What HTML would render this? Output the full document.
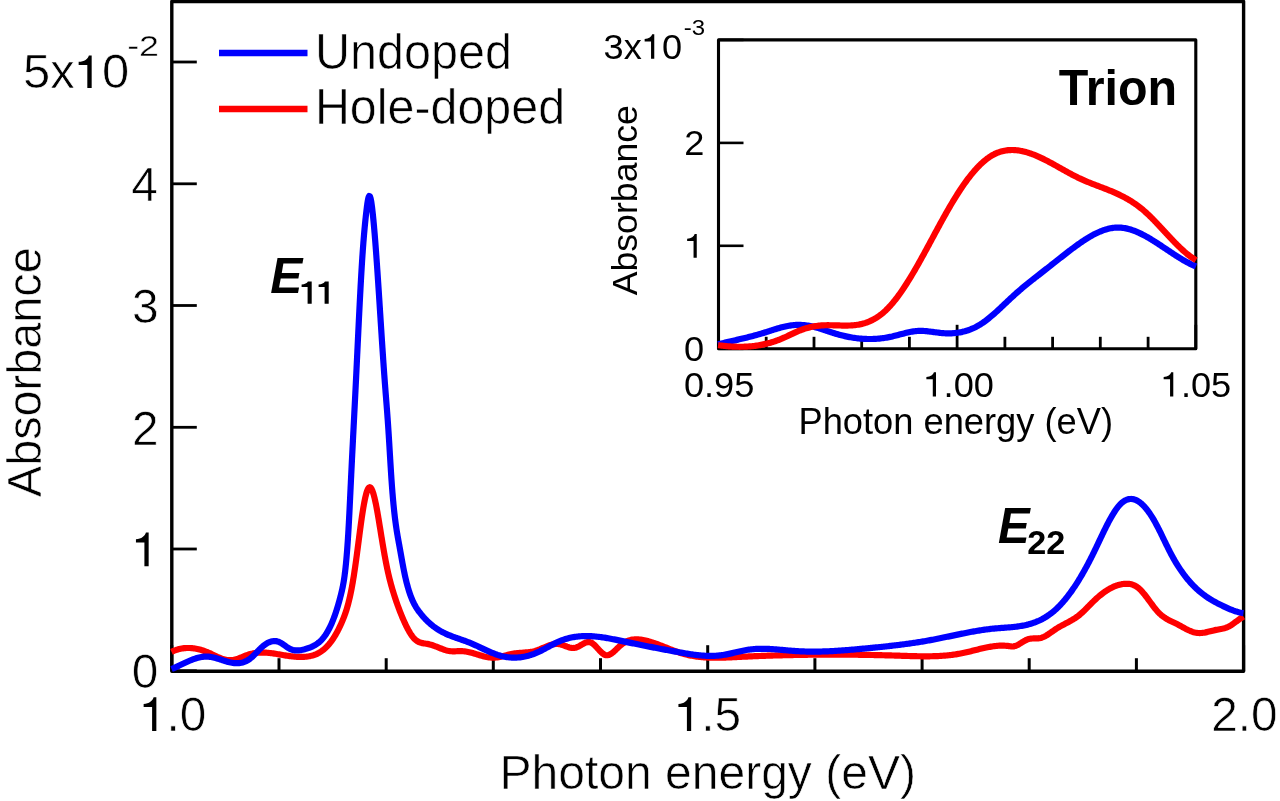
<!DOCTYPE html>
<html><head><meta charset="utf-8"><style>
html,body{margin:0;padding:0;background:#fff;width:1280px;height:801px;overflow:hidden}
svg{display:block;will-change:transform}
text{font-family:"Liberation Sans",sans-serif;fill:#000;stroke:#fff;stroke-width:1.3px}
text[font-weight="bold"]{stroke:none}
.ins text{stroke:none}
</style></head><body>
<svg width="1280" height="801" viewBox="0 0 1280 801">
<rect width="1280" height="801" fill="#fff"/>
<rect x="171.8" y="1.5" width="1071.8" height="669.7" fill="none" stroke="#000" stroke-width="3.4" stroke-linejoin="round"/>
<line x1="171.8" y1="670.8" x2="196.8" y2="670.8" stroke="#000" stroke-width="2.8"/>
<line x1="171.8" y1="549.0" x2="196.8" y2="549.0" stroke="#000" stroke-width="2.8"/>
<line x1="171.8" y1="427.3" x2="196.8" y2="427.3" stroke="#000" stroke-width="2.8"/>
<line x1="171.8" y1="305.5" x2="196.8" y2="305.5" stroke="#000" stroke-width="2.8"/>
<line x1="171.8" y1="183.8" x2="196.8" y2="183.8" stroke="#000" stroke-width="2.8"/>
<line x1="171.8" y1="62.0" x2="196.8" y2="62.0" stroke="#000" stroke-width="2.8"/>
<line x1="171.8" y1="671.2" x2="171.8" y2="645.2" stroke="#000" stroke-width="3"/>
<line x1="279.0" y1="671.2" x2="279.0" y2="658.2" stroke="#000" stroke-width="3"/>
<line x1="386.2" y1="671.2" x2="386.2" y2="658.2" stroke="#000" stroke-width="3"/>
<line x1="493.3" y1="671.2" x2="493.3" y2="658.2" stroke="#000" stroke-width="3"/>
<line x1="600.5" y1="671.2" x2="600.5" y2="658.2" stroke="#000" stroke-width="3"/>
<line x1="707.7" y1="671.2" x2="707.7" y2="645.2" stroke="#000" stroke-width="3"/>
<line x1="814.9" y1="671.2" x2="814.9" y2="658.2" stroke="#000" stroke-width="3"/>
<line x1="922.1" y1="671.2" x2="922.1" y2="658.2" stroke="#000" stroke-width="3"/>
<line x1="1029.2" y1="671.2" x2="1029.2" y2="658.2" stroke="#000" stroke-width="3"/>
<line x1="1136.4" y1="671.2" x2="1136.4" y2="658.2" stroke="#000" stroke-width="3"/>
<line x1="1243.6" y1="671.2" x2="1243.6" y2="645.2" stroke="#000" stroke-width="3"/>
<rect x="718.5" y="39.9" width="477.29999999999995" height="308.90000000000003" fill="#fff" stroke="#000" stroke-width="3.1" stroke-linejoin="round"/>
<line x1="718.5" y1="348.8" x2="743.5" y2="348.8" stroke="#000" stroke-width="2.6"/>
<line x1="718.5" y1="245.8" x2="743.5" y2="245.8" stroke="#000" stroke-width="2.6"/>
<line x1="718.5" y1="142.9" x2="743.5" y2="142.9" stroke="#000" stroke-width="2.6"/>
<line x1="718.5" y1="39.9" x2="743.5" y2="39.9" stroke="#000" stroke-width="2.6"/>
<line x1="718.5" y1="348.8" x2="718.5" y2="324.8" stroke="#000" stroke-width="2.8"/>
<line x1="766.2" y1="348.8" x2="766.2" y2="336.8" stroke="#000" stroke-width="2.8"/>
<line x1="814.0" y1="348.8" x2="814.0" y2="336.8" stroke="#000" stroke-width="2.8"/>
<line x1="861.7" y1="348.8" x2="861.7" y2="336.8" stroke="#000" stroke-width="2.8"/>
<line x1="909.4" y1="348.8" x2="909.4" y2="336.8" stroke="#000" stroke-width="2.8"/>
<line x1="957.1" y1="348.8" x2="957.1" y2="324.8" stroke="#000" stroke-width="2.8"/>
<line x1="1004.9" y1="348.8" x2="1004.9" y2="336.8" stroke="#000" stroke-width="2.8"/>
<line x1="1052.6" y1="348.8" x2="1052.6" y2="336.8" stroke="#000" stroke-width="2.8"/>
<line x1="1100.3" y1="348.8" x2="1100.3" y2="336.8" stroke="#000" stroke-width="2.8"/>
<line x1="1148.1" y1="348.8" x2="1148.1" y2="336.8" stroke="#000" stroke-width="2.8"/>
<line x1="1195.8" y1="348.8" x2="1195.8" y2="324.8" stroke="#000" stroke-width="2.8"/>
<path d="M171.50,651.90 L172.60,651.38 L173.70,650.90 L174.80,650.46 L175.95,650.04 L177.10,649.66 L178.25,649.32 L179.40,649.02 L180.55,648.76 L181.75,648.53 L182.95,648.34 L184.15,648.19 L185.30,648.09 L186.50,648.01 L187.70,647.98 L188.90,647.98 L190.10,648.02 L191.30,648.10 L192.50,648.21 L193.70,648.35 L194.90,648.53 L196.05,648.73 L197.25,648.97 L198.40,649.23 L199.60,649.54 L200.75,649.86 L201.90,650.20 L203.05,650.57 L204.15,650.95 L205.30,651.37 L206.40,651.79 L207.50,652.24 L208.65,652.73 L209.75,653.21 L210.80,653.69 L211.90,654.21 L213.00,654.73 L214.05,655.23 L215.15,655.75 L216.25,656.26 L217.35,656.77 L218.45,657.25 L219.55,657.72 L220.65,658.16 L221.80,658.59 L222.90,658.96 L224.05,659.31 L225.20,659.60 L226.40,659.86 L227.60,660.05 L228.75,660.16 L229.95,660.20 L231.15,660.17 L232.35,660.04 L233.55,659.85 L234.70,659.60 L235.90,659.29 L237.05,658.94 L238.15,658.57 L239.30,658.15 L240.40,657.73 L241.55,657.27 L242.65,656.83 L243.75,656.38 L244.85,655.94 L246.00,655.49 L247.10,655.07 L248.25,654.67 L249.40,654.29 L250.55,653.96 L251.70,653.66 L252.85,653.40 L254.05,653.17 L255.25,652.98 L256.40,652.83 L257.60,652.71 L258.80,652.62 L260.00,652.56 L261.20,652.53 L262.40,652.53 L263.60,652.55 L264.80,652.59 L266.00,652.66 L267.20,652.75 L268.40,652.86 L269.60,652.99 L270.80,653.13 L271.95,653.28 L273.15,653.44 L274.35,653.62 L275.55,653.81 L276.70,653.99 L277.90,654.19 L279.10,654.39 L280.25,654.59 L281.45,654.79 L282.65,654.99 L283.80,655.19 L285.00,655.38 L286.20,655.58 L287.40,655.76 L288.55,655.93 L289.75,656.10 L290.95,656.26 L292.15,656.40 L293.30,656.53 L294.50,656.65 L295.70,656.75 L296.90,656.83 L298.10,656.89 L299.30,656.93 L300.50,656.95 L301.70,656.94 L302.90,656.91 L304.10,656.85 L305.30,656.76 L306.50,656.65 L307.70,656.50 L308.90,656.31 L310.05,656.09 L311.25,655.83 L312.40,655.53 L313.55,655.18 L314.65,654.80 L315.80,654.35 L316.90,653.86 L317.95,653.35 L319.00,652.78 L320.05,652.16 L321.05,651.51 L322.05,650.81 L323.00,650.09 L323.95,649.31 L324.85,648.53 L325.70,647.74 L326.55,646.90 L327.40,646.02 L328.20,645.14 L329.00,644.22 L329.75,643.31 L330.50,642.36 L331.25,641.36 L331.95,640.40 L332.60,639.46 L333.30,638.42 L333.95,637.42 L334.60,636.38 L335.20,635.38 L335.80,634.36 L336.40,633.30 L337.00,632.22 L337.55,631.19 L338.10,630.14 L338.65,629.05 L339.20,627.94 L339.70,626.91 L340.20,625.85 L340.70,624.76 L341.20,623.66 L341.70,622.52 L342.20,621.36 L342.65,620.30 L343.10,619.20 L343.55,618.08 L344.00,616.92 L344.40,615.86 L344.80,614.77 L345.20,613.64 L345.60,612.47 L346.00,611.27 L346.35,610.18 L346.70,609.05 L347.05,607.89 L347.40,606.69 L347.70,605.62 L348.05,604.35 L348.35,603.22 L348.65,602.05 L348.95,600.86 L349.25,599.62 L349.50,598.57 L349.75,597.49 L350.05,596.15 L350.30,595.01 L350.55,593.84 L350.80,592.64 L351.05,591.42 L351.25,590.41 L351.50,589.13 L351.70,588.08 L351.95,586.74 L352.15,585.64 L352.35,584.53 L352.60,583.11 L352.80,581.94 L353.00,580.76 L353.20,579.56 L353.40,578.35 L353.55,577.42 L353.75,576.17 L353.95,574.90 L354.15,573.62 L354.30,572.64 L354.50,571.32 L354.65,570.33 L354.85,568.98 L355.05,567.62 L355.20,566.59 L355.35,565.55 L355.55,564.15 L355.70,563.09 L355.90,561.67 L356.05,560.59 L356.20,559.50 L356.35,558.41 L356.55,556.94 L356.70,555.83 L356.85,554.71 L357.00,553.59 L357.15,552.46 L357.35,550.95 L357.50,549.80 L357.65,548.66 L357.80,547.51 L357.95,546.36 L358.10,545.21 L358.25,544.05 L358.40,542.89 L358.55,541.74 L358.70,540.58 L358.90,539.04 L359.05,537.88 L359.20,536.73 L359.35,535.58 L359.50,534.43 L359.65,533.28 L359.80,532.14 L359.95,531.01 L360.10,529.88 L360.30,528.38 L360.45,527.26 L360.60,526.15 L360.75,525.04 L360.90,523.95 L361.10,522.50 L361.25,521.43 L361.40,520.36 L361.60,518.96 L361.75,517.92 L361.95,516.55 L362.10,515.54 L362.30,514.21 L362.45,513.23 L362.65,511.95 L362.85,510.69 L363.05,509.45 L363.25,508.24 L363.45,507.06 L363.65,505.91 L363.85,504.78 L364.05,503.69 L364.30,502.36 L364.50,501.33 L364.75,500.08 L365.00,498.89 L365.25,497.75 L365.50,496.66 L365.80,495.42 L366.10,494.25 L366.40,493.17 L366.75,492.02 L367.15,490.84 L367.55,489.82 L368.05,488.76 L368.75,487.73 L369.75,487.20 L370.80,487.80 L371.45,488.72 L372.00,489.81 L372.50,491.03 L372.90,492.16 L373.25,493.25 L373.60,494.43 L373.90,495.51 L374.20,496.66 L374.50,497.87 L374.80,499.13 L375.05,500.23 L375.30,501.37 L375.55,502.54 L375.80,503.74 L376.05,504.98 L376.30,506.24 L376.50,507.28 L376.75,508.60 L376.95,509.67 L377.15,510.77 L377.40,512.15 L377.60,513.28 L377.80,514.42 L378.00,515.57 L378.20,516.74 L378.40,517.91 L378.60,519.10 L378.80,520.29 L379.00,521.50 L379.20,522.71 L379.40,523.93 L379.60,525.15 L379.80,526.38 L379.95,527.30 L380.15,528.54 L380.35,529.77 L380.55,531.01 L380.75,532.25 L380.95,533.49 L381.10,534.41 L381.30,535.65 L381.50,536.88 L381.70,538.11 L381.90,539.33 L382.10,540.55 L382.30,541.76 L382.50,542.96 L382.70,544.16 L382.90,545.35 L383.10,546.54 L383.30,547.71 L383.50,548.88 L383.70,550.04 L383.90,551.19 L384.10,552.33 L384.30,553.46 L384.50,554.58 L384.75,555.96 L384.95,557.06 L385.15,558.15 L385.40,559.49 L385.60,560.55 L385.80,561.60 L386.05,562.89 L386.30,564.16 L386.50,565.17 L386.75,566.40 L387.00,567.62 L387.25,568.81 L387.50,569.97 L387.75,571.12 L388.00,572.25 L388.25,573.35 L388.55,574.66 L388.80,575.72 L389.10,576.97 L389.40,578.20 L389.65,579.20 L389.95,580.38 L390.25,581.54 L390.55,582.67 L390.90,583.97 L391.20,585.07 L391.50,586.14 L391.85,587.37 L392.20,588.57 L392.55,589.76 L392.85,590.76 L393.20,591.90 L393.60,593.19 L393.95,594.31 L394.30,595.41 L394.65,596.49 L395.05,597.72 L395.40,598.78 L395.80,599.97 L396.20,601.14 L396.55,602.16 L396.95,603.31 L397.35,604.44 L397.80,605.69 L398.20,606.78 L398.60,607.87 L399.00,608.93 L399.45,610.12 L399.90,611.28 L400.30,612.30 L400.75,613.44 L401.20,614.55 L401.65,615.65 L402.10,616.74 L402.60,617.92 L403.05,618.97 L403.55,620.12 L404.05,621.25 L404.50,622.25 L405.00,623.34 L405.55,624.52 L406.05,625.56 L406.55,626.58 L407.10,627.67 L407.65,628.74 L408.25,629.86 L408.80,630.85 L409.40,631.90 L410.00,632.90 L410.65,633.93 L411.30,634.91 L412.00,635.90 L412.75,636.89 L413.50,637.80 L414.30,638.68 L415.15,639.50 L416.10,640.30 L417.05,640.98 L418.10,641.60 L419.15,642.11 L420.30,642.55 L421.45,642.89 L422.60,643.16 L423.80,643.38 L424.95,643.56 L426.15,643.73 L427.35,643.92 L428.55,644.14 L429.70,644.40 L430.85,644.71 L432.00,645.06 L433.15,645.45 L434.25,645.84 L435.40,646.28 L436.50,646.71 L437.60,647.15 L438.75,647.62 L439.85,648.06 L440.95,648.50 L442.10,648.94 L443.20,649.35 L444.35,649.75 L445.50,650.12 L446.65,650.44 L447.80,650.73 L449.00,650.97 L450.15,651.14 L451.35,651.25 L452.55,651.31 L453.75,651.32 L454.95,651.31 L456.15,651.27 L457.35,651.22 L458.55,651.17 L459.75,651.13 L460.95,651.12 L462.15,651.14 L463.35,651.22 L464.55,651.33 L465.75,651.50 L466.90,651.69 L468.10,651.93 L469.25,652.18 L470.45,652.47 L471.60,652.78 L472.75,653.10 L473.90,653.43 L475.05,653.78 L476.20,654.13 L477.35,654.48 L478.50,654.83 L479.65,655.18 L480.80,655.52 L481.95,655.85 L483.10,656.16 L484.25,656.46 L485.45,656.74 L486.60,656.98 L487.80,657.20 L489.00,657.38 L490.15,657.52 L491.35,657.62 L492.55,657.67 L493.75,657.66 L494.95,657.60 L496.15,657.49 L497.35,657.33 L498.55,657.12 L499.70,656.90 L500.90,656.64 L502.05,656.36 L503.20,656.07 L504.35,655.77 L505.55,655.46 L506.70,655.15 L507.85,654.85 L509.00,654.56 L510.20,654.27 L511.35,654.02 L512.55,653.78 L513.70,653.58 L514.90,653.40 L516.10,653.25 L517.30,653.12 L518.50,653.01 L519.65,652.91 L520.85,652.82 L522.05,652.73 L523.25,652.65 L524.45,652.56 L525.65,652.46 L526.85,652.35 L528.05,652.22 L529.25,652.07 L530.40,651.91 L531.60,651.70 L532.80,651.47 L533.95,651.21 L535.10,650.92 L536.25,650.58 L537.40,650.20 L538.55,649.78 L539.65,649.35 L540.75,648.89 L541.85,648.43 L542.95,647.95 L544.05,647.47 L545.15,647.00 L546.30,646.52 L547.40,646.07 L548.50,645.65 L549.65,645.24 L550.80,644.88 L551.95,644.56 L553.10,644.29 L554.30,644.09 L555.50,643.95 L556.70,643.91 L557.90,643.95 L559.05,644.09 L560.25,644.34 L561.40,644.65 L562.55,645.02 L563.70,645.42 L564.80,645.84 L565.95,646.27 L567.05,646.68 L568.20,647.07 L569.35,647.42 L570.50,647.70 L571.70,647.91 L572.90,648.00 L574.10,647.96 L575.25,647.79 L576.40,647.46 L577.55,646.99 L578.60,646.47 L579.65,645.89 L580.70,645.27 L581.70,644.67 L582.75,644.05 L583.80,643.46 L584.85,642.95 L586.00,642.48 L587.15,642.15 L588.35,642.00 L589.50,642.06 L590.70,642.38 L591.75,642.90 L592.75,643.57 L593.70,644.34 L594.60,645.16 L595.45,646.02 L596.25,646.86 L597.05,647.74 L597.85,648.63 L598.65,649.52 L599.45,650.40 L600.30,651.30 L601.15,652.15 L602.05,652.97 L602.95,653.70 L603.95,654.37 L605.00,654.89 L606.20,655.21 L607.35,655.24 L608.55,655.01 L609.65,654.59 L610.75,654.00 L611.75,653.33 L612.70,652.61 L613.60,651.85 L614.50,651.05 L615.40,650.20 L616.25,649.38 L617.10,648.55 L617.95,647.73 L618.85,646.87 L619.70,646.08 L620.60,645.29 L621.55,644.52 L622.50,643.81 L623.50,643.13 L624.50,642.51 L625.55,641.93 L626.65,641.40 L627.75,640.93 L628.85,640.53 L630.00,640.18 L631.20,639.88 L632.35,639.66 L633.55,639.50 L634.75,639.39 L635.95,639.34 L637.15,639.35 L638.35,639.40 L639.55,639.50 L640.75,639.64 L641.90,639.81 L643.10,640.02 L644.30,640.26 L645.45,640.52 L646.60,640.79 L647.80,641.10 L648.95,641.42 L650.10,641.75 L651.25,642.11 L652.40,642.47 L653.50,642.83 L654.65,643.23 L655.80,643.63 L656.90,644.03 L658.05,644.45 L659.15,644.87 L660.30,645.31 L661.40,645.73 L662.50,646.16 L663.65,646.62 L664.75,647.05 L665.85,647.49 L667.00,647.95 L668.10,648.38 L669.20,648.82 L670.35,649.27 L671.45,649.70 L672.55,650.12 L673.70,650.56 L674.80,650.97 L675.95,651.39 L677.05,651.78 L678.20,652.18 L679.35,652.57 L680.50,652.94 L681.65,653.30 L682.80,653.64 L683.95,653.97 L685.10,654.28 L686.25,654.57 L687.40,654.85 L688.60,655.12 L689.75,655.37 L690.95,655.61 L692.10,655.83 L693.30,656.04 L694.50,656.23 L695.65,656.41 L696.85,656.58 L698.05,656.74 L699.25,656.88 L700.45,657.01 L701.65,657.13 L702.85,657.23 L704.00,657.32 L705.20,657.41 L706.40,657.48 L707.60,657.54 L708.80,657.60 L710.00,657.64 L711.20,657.68 L712.40,657.70 L713.60,657.72 L714.80,657.73 L716.00,657.73 L717.20,657.73 L718.40,657.72 L719.60,657.70 L720.80,657.68 L722.00,657.65 L723.20,657.62 L724.40,657.58 L725.60,657.54 L726.80,657.50 L728.00,657.45 L729.20,657.40 L730.40,657.34 L731.60,657.28 L732.80,657.23 L734.00,657.17 L735.20,657.11 L736.40,657.05 L737.60,656.99 L738.80,656.93 L740.00,656.87 L741.20,656.81 L742.40,656.75 L743.60,656.69 L744.80,656.64 L746.00,656.58 L747.20,656.53 L748.40,656.47 L749.60,656.42 L750.80,656.37 L752.00,656.31 L753.20,656.26 L754.40,656.21 L755.60,656.16 L756.80,656.12 L758.00,656.07 L759.20,656.02 L760.35,655.98 L761.55,655.93 L762.75,655.89 L763.95,655.84 L765.15,655.80 L766.35,655.76 L767.55,655.72 L768.75,655.68 L769.95,655.64 L771.15,655.60 L772.35,655.56 L773.55,655.52 L774.75,655.49 L775.95,655.45 L777.15,655.41 L778.35,655.38 L779.55,655.35 L780.75,655.31 L781.95,655.28 L783.15,655.25 L784.35,655.22 L785.55,655.19 L786.75,655.16 L787.95,655.13 L789.15,655.11 L790.35,655.08 L791.55,655.05 L792.75,655.03 L793.95,655.00 L795.15,654.98 L796.35,654.96 L797.55,654.93 L798.75,654.91 L799.95,654.89 L801.15,654.87 L802.35,654.85 L803.55,654.84 L804.75,654.82 L805.95,654.80 L807.15,654.78 L808.35,654.77 L809.55,654.75 L810.75,654.74 L811.95,654.73 L813.15,654.72 L814.35,654.70 L815.55,654.69 L816.75,654.68 L817.95,654.67 L819.15,654.66 L820.35,654.66 L821.55,654.65 L822.75,654.64 L823.95,654.64 L825.15,654.63 L826.35,654.63 L827.55,654.62 L828.75,654.62 L829.95,654.62 L831.15,654.62 L832.35,654.62 L833.55,654.62 L834.75,654.62 L835.95,654.62 L837.15,654.62 L838.35,654.62 L839.55,654.63 L840.75,654.63 L841.95,654.64 L843.15,654.64 L844.35,654.65 L845.55,654.66 L846.75,654.66 L847.95,654.67 L849.15,654.68 L850.35,654.69 L851.55,654.70 L852.75,654.72 L853.95,654.73 L855.15,654.74 L856.35,654.75 L857.55,654.77 L858.75,654.78 L859.95,654.80 L861.15,654.82 L862.35,654.83 L863.55,654.85 L864.75,654.87 L865.95,654.89 L867.15,654.91 L868.35,654.93 L869.55,654.95 L870.75,654.97 L871.95,654.99 L873.15,655.02 L874.35,655.04 L875.55,655.07 L876.75,655.09 L877.95,655.12 L879.15,655.14 L880.35,655.17 L881.55,655.20 L882.75,655.23 L883.95,655.26 L885.15,655.29 L886.35,655.32 L887.55,655.35 L888.75,655.38 L889.95,655.42 L891.15,655.45 L892.35,655.48 L893.55,655.52 L894.75,655.55 L895.95,655.59 L897.15,655.63 L898.35,655.66 L899.55,655.70 L900.75,655.74 L901.95,655.78 L903.15,655.82 L904.35,655.86 L905.55,655.90 L906.75,655.94 L907.95,655.98 L909.15,656.01 L910.35,656.05 L911.55,656.09 L912.75,656.12 L913.95,656.15 L915.15,656.18 L916.35,656.21 L917.55,656.23 L918.75,656.25 L919.95,656.27 L921.15,656.29 L922.35,656.30 L923.55,656.31 L924.75,656.32 L925.95,656.32 L927.15,656.31 L928.35,656.30 L929.55,656.29 L930.75,656.27 L931.95,656.25 L933.15,656.22 L934.35,656.18 L935.55,656.14 L936.75,656.09 L937.95,656.04 L939.15,655.98 L940.35,655.91 L941.55,655.84 L942.70,655.76 L943.90,655.67 L945.10,655.57 L946.30,655.47 L947.50,655.35 L948.70,655.23 L949.90,655.10 L951.10,654.96 L952.30,654.81 L953.45,654.65 L954.65,654.49 L955.85,654.31 L957.05,654.12 L958.20,653.93 L959.40,653.72 L960.55,653.51 L961.75,653.27 L962.95,653.03 L964.10,652.79 L965.25,652.54 L966.45,652.26 L967.60,652.00 L968.80,651.71 L969.95,651.43 L971.10,651.15 L972.30,650.85 L973.45,650.56 L974.60,650.27 L975.75,649.98 L976.95,649.68 L978.10,649.39 L979.25,649.11 L980.45,648.82 L981.60,648.55 L982.75,648.28 L983.95,648.01 L985.10,647.75 L986.30,647.50 L987.45,647.27 L988.65,647.04 L989.80,646.83 L991.00,646.63 L992.20,646.44 L993.35,646.28 L994.55,646.12 L995.75,645.99 L996.95,645.88 L998.15,645.78 L999.35,645.71 L1000.55,645.67 L1001.75,645.64 L1002.95,645.65 L1004.15,645.68 L1005.35,645.74 L1006.55,645.83 L1007.75,645.95 L1008.90,646.09 L1010.10,646.27 L1011.30,646.43 L1012.50,646.49 L1013.70,646.37 L1014.85,646.10 L1016.00,645.70 L1017.10,645.22 L1018.15,644.69 L1019.20,644.09 L1020.25,643.46 L1021.25,642.84 L1022.25,642.21 L1023.30,641.57 L1024.35,640.94 L1025.40,640.37 L1026.45,639.85 L1027.55,639.39 L1028.70,639.02 L1029.85,638.76 L1031.05,638.59 L1032.25,638.50 L1033.45,638.46 L1034.65,638.45 L1035.85,638.44 L1037.05,638.41 L1038.25,638.33 L1039.45,638.19 L1040.60,637.96 L1041.75,637.64 L1042.90,637.21 L1044.00,636.73 L1045.05,636.20 L1046.10,635.62 L1047.15,634.99 L1048.15,634.36 L1049.15,633.70 L1050.15,633.01 L1051.15,632.32 L1052.10,631.65 L1053.10,630.94 L1054.10,630.24 L1055.05,629.59 L1056.05,628.92 L1057.10,628.25 L1058.10,627.63 L1059.15,627.01 L1060.20,626.41 L1061.20,625.85 L1062.30,625.25 L1063.35,624.69 L1064.40,624.14 L1065.45,623.59 L1066.55,623.02 L1067.60,622.47 L1068.65,621.91 L1069.70,621.34 L1070.75,620.76 L1071.80,620.16 L1072.85,619.53 L1073.85,618.92 L1074.85,618.28 L1075.85,617.61 L1076.85,616.91 L1077.80,616.22 L1078.75,615.49 L1079.70,614.72 L1080.60,613.96 L1081.50,613.17 L1082.40,612.35 L1083.30,611.51 L1084.15,610.69 L1085.00,609.86 L1085.85,609.02 L1086.70,608.16 L1087.55,607.30 L1088.40,606.43 L1089.20,605.61 L1090.05,604.75 L1090.90,603.88 L1091.75,603.03 L1092.60,602.18 L1093.45,601.35 L1094.30,600.53 L1095.20,599.68 L1096.05,598.89 L1096.95,598.07 L1097.85,597.28 L1098.75,596.50 L1099.70,595.70 L1100.60,594.97 L1101.55,594.21 L1102.50,593.48 L1103.45,592.77 L1104.45,592.05 L1105.45,591.36 L1106.40,590.72 L1107.45,590.05 L1108.45,589.44 L1109.50,588.82 L1110.55,588.25 L1111.60,587.70 L1112.70,587.16 L1113.80,586.66 L1114.90,586.20 L1116.00,585.77 L1117.15,585.37 L1118.30,585.01 L1119.45,584.69 L1120.60,584.42 L1121.80,584.18 L1122.95,584.00 L1124.15,583.86 L1125.35,583.78 L1126.55,583.75 L1127.75,583.78 L1128.95,583.88 L1130.15,584.05 L1131.30,584.30 L1132.45,584.64 L1133.60,585.06 L1134.70,585.56 L1135.75,586.13 L1136.75,586.75 L1137.75,587.46 L1138.65,588.18 L1139.55,588.98 L1140.45,589.85 L1141.25,590.67 L1142.10,591.60 L1142.85,592.46 L1143.65,593.41 L1144.40,594.33 L1145.15,595.28 L1145.90,596.25 L1146.60,597.17 L1147.35,598.17 L1148.05,599.12 L1148.75,600.07 L1149.45,601.03 L1150.15,601.99 L1150.90,603.01 L1151.60,603.96 L1152.30,604.91 L1153.00,605.84 L1153.75,606.82 L1154.50,607.79 L1155.25,608.73 L1156.00,609.65 L1156.75,610.54 L1157.55,611.44 L1158.35,612.31 L1159.20,613.18 L1160.10,614.04 L1160.95,614.80 L1161.90,615.60 L1162.85,616.34 L1163.80,617.04 L1164.80,617.72 L1165.80,618.36 L1166.85,618.99 L1167.90,619.58 L1168.95,620.14 L1170.00,620.68 L1171.10,621.22 L1172.15,621.72 L1173.25,622.25 L1174.35,622.77 L1175.40,623.28 L1176.50,623.82 L1177.55,624.36 L1178.60,624.91 L1179.65,625.48 L1180.70,626.06 L1181.75,626.64 L1182.80,627.21 L1183.90,627.82 L1184.95,628.38 L1186.00,628.94 L1187.05,629.47 L1188.15,630.01 L1189.25,630.52 L1190.35,631.00 L1191.45,631.44 L1192.55,631.83 L1193.70,632.20 L1194.90,632.51 L1196.05,632.75 L1197.25,632.92 L1198.45,633.02 L1199.65,633.04 L1200.85,633.00 L1202.05,632.91 L1203.20,632.77 L1204.40,632.58 L1205.60,632.36 L1206.75,632.11 L1207.95,631.84 L1209.10,631.56 L1210.25,631.27 L1211.40,630.98 L1212.60,630.68 L1213.75,630.41 L1214.95,630.14 L1216.10,629.90 L1217.30,629.68 L1218.45,629.48 L1219.65,629.27 L1220.85,629.05 L1222.00,628.82 L1223.15,628.56 L1224.35,628.25 L1225.50,627.89 L1226.60,627.49 L1227.70,627.03 L1228.80,626.50 L1229.85,625.92 L1230.90,625.29 L1231.90,624.65 L1232.90,623.97 L1233.85,623.30 L1234.85,622.57 L1235.80,621.87 L1236.75,621.16 L1237.70,620.46 L1238.70,619.72 L1239.65,619.03 L1240.65,618.32 L1241.65,617.65 L1242.65,617.01 L1243.50,616.50" fill="none" stroke="#FF0000" stroke-width="6.2" stroke-linejoin="round" stroke-linecap="butt"/>
<path d="M171.50,669.00 L172.65,668.53 L173.75,668.06 L174.85,667.58 L175.95,667.08 L177.00,666.60 L178.10,666.08 L179.20,665.56 L180.30,665.04 L181.35,664.54 L182.45,664.01 L183.55,663.49 L184.60,662.99 L185.70,662.48 L186.80,661.97 L187.90,661.47 L189.00,660.99 L190.10,660.52 L191.20,660.06 L192.30,659.63 L193.45,659.19 L194.55,658.80 L195.70,658.42 L196.85,658.07 L198.00,657.75 L199.15,657.46 L200.35,657.20 L201.50,656.99 L202.70,656.81 L203.90,656.68 L205.10,656.61 L206.30,656.58 L207.50,656.61 L208.70,656.70 L209.90,656.84 L211.05,657.02 L212.25,657.24 L213.40,657.50 L214.60,657.79 L215.75,658.10 L216.90,658.43 L218.05,658.78 L219.20,659.14 L220.35,659.51 L221.50,659.88 L222.60,660.24 L223.75,660.61 L224.90,660.97 L226.05,661.32 L227.20,661.65 L228.35,661.96 L229.55,662.26 L230.70,662.52 L231.90,662.75 L233.05,662.93 L234.25,663.07 L235.45,663.17 L236.65,663.20 L237.85,663.18 L239.05,663.10 L240.25,662.95 L241.40,662.74 L242.60,662.45 L243.75,662.09 L244.85,661.68 L245.95,661.20 L247.00,660.66 L248.05,660.05 L249.05,659.40 L250.05,658.69 L251.00,657.93 L251.90,657.16 L252.80,656.34 L253.65,655.52 L254.50,654.67 L255.35,653.80 L256.15,652.97 L257.00,652.08 L257.80,651.24 L258.65,650.35 L259.50,649.47 L260.35,648.62 L261.20,647.80 L262.10,646.97 L263.00,646.18 L263.90,645.44 L264.85,644.72 L265.85,644.03 L266.85,643.40 L267.90,642.81 L269.00,642.29 L270.10,641.85 L271.25,641.49 L272.40,641.23 L273.60,641.08 L274.80,641.05 L276.00,641.14 L277.20,641.37 L278.35,641.70 L279.45,642.14 L280.55,642.70 L281.55,643.30 L282.55,643.96 L283.55,644.66 L284.50,645.36 L285.50,646.09 L286.45,646.77 L287.45,647.46 L288.45,648.08 L289.50,648.66 L290.60,649.17 L291.70,649.58 L292.85,649.92 L294.05,650.19 L295.25,650.36 L296.40,650.44 L297.60,650.45 L298.80,650.39 L300.00,650.26 L301.20,650.07 L302.40,649.83 L303.55,649.55 L304.70,649.24 L305.85,648.89 L307.00,648.52 L308.15,648.13 L309.25,647.74 L310.40,647.30 L311.50,646.85 L312.60,646.36 L313.65,645.84 L314.75,645.25 L315.75,644.66 L316.75,644.01 L317.75,643.30 L318.70,642.55 L319.60,641.78 L320.50,640.95 L321.35,640.10 L322.15,639.23 L322.95,638.31 L323.70,637.39 L324.40,636.47 L325.10,635.50 L325.80,634.47 L326.45,633.47 L327.10,632.41 L327.70,631.39 L328.30,630.32 L328.85,629.30 L329.40,628.23 L329.95,627.13 L330.45,626.09 L330.95,625.01 L331.45,623.89 L331.95,622.74 L332.40,621.67 L332.85,620.56 L333.30,619.43 L333.75,618.26 L334.15,617.19 L334.55,616.10 L334.95,614.97 L335.35,613.83 L335.75,612.65 L336.10,611.60 L336.50,610.37 L336.85,609.26 L337.20,608.14 L337.55,607.00 L337.90,605.83 L338.25,604.64 L338.60,603.42 L338.90,602.36 L339.25,601.10 L339.55,600.00 L339.85,598.88 L340.15,597.75 L340.45,596.59 L340.75,595.42 L341.05,594.23 L341.35,593.02 L341.65,591.77 L341.90,590.70 L342.15,589.60 L342.40,588.45 L342.65,587.25 L342.90,585.99 L343.15,584.68 L343.35,583.57 L343.55,582.42 L343.75,581.22 L343.95,579.97 L344.10,578.99 L344.30,577.63 L344.45,576.57 L344.65,575.10 L344.80,573.95 L344.95,572.76 L345.10,571.53 L345.25,570.26 L345.35,569.38 L345.50,568.04 L345.65,566.64 L345.75,565.68 L345.85,564.71 L346.00,563.20 L346.10,562.16 L346.20,561.10 L346.35,559.47 L346.45,558.35 L346.55,557.21 L346.65,556.04 L346.75,554.84 L346.85,553.62 L346.95,552.38 L347.05,551.10 L347.15,549.80 L347.20,549.14 L347.30,547.80 L347.40,546.43 L347.50,545.03 L347.55,544.32 L347.65,542.88 L347.75,541.40 L347.80,540.66 L347.90,539.14 L347.95,538.37 L348.05,536.80 L348.15,535.20 L348.20,534.39 L348.25,533.58 L348.35,531.92 L348.40,531.07 L348.50,529.36 L348.55,528.50 L348.65,526.74 L348.70,525.85 L348.75,524.94 L348.85,523.12 L348.90,522.19 L348.95,521.26 L349.00,520.32 L349.10,518.42 L349.15,517.46 L349.20,516.49 L349.25,515.52 L349.35,513.55 L349.40,512.56 L349.45,511.57 L349.50,510.56 L349.55,509.56 L349.65,507.53 L349.70,506.52 L349.75,505.49 L349.80,504.47 L349.85,503.44 L349.90,502.41 L350.00,500.33 L350.05,499.29 L350.10,498.25 L350.15,497.21 L350.20,496.16 L350.25,495.11 L350.35,493.01 L350.40,491.96 L350.45,490.91 L350.50,489.86 L350.55,488.81 L350.60,487.76 L350.65,486.71 L350.70,485.66 L350.80,483.56 L350.85,482.51 L350.90,481.46 L350.95,480.42 L351.00,479.38 L351.05,478.34 L351.15,476.27 L351.20,475.24 L351.25,474.20 L351.30,473.18 L351.35,472.15 L351.40,471.12 L351.50,469.08 L351.55,468.06 L351.60,467.05 L351.65,466.03 L351.70,465.02 L351.75,464.01 L351.85,461.99 L351.90,460.98 L351.95,459.97 L352.00,458.97 L352.05,457.97 L352.15,455.97 L352.20,454.97 L352.25,453.97 L352.30,452.98 L352.35,451.98 L352.45,450.00 L352.50,449.00 L352.55,448.01 L352.60,447.02 L352.65,446.04 L352.75,444.06 L352.80,443.08 L352.85,442.09 L352.90,441.11 L352.95,440.12 L353.05,438.16 L353.10,437.18 L353.15,436.20 L353.20,435.21 L353.30,433.25 L353.35,432.27 L353.40,431.30 L353.45,430.32 L353.50,429.34 L353.60,427.38 L353.65,426.40 L353.70,425.42 L353.75,424.45 L353.85,422.49 L353.90,421.51 L353.95,420.53 L354.00,419.55 L354.10,417.60 L354.15,416.62 L354.20,415.64 L354.25,414.66 L354.30,413.68 L354.40,411.71 L354.45,410.73 L354.50,409.75 L354.55,408.77 L354.65,406.80 L354.70,405.81 L354.75,404.82 L354.80,403.84 L354.85,402.85 L354.95,400.87 L355.00,399.88 L355.05,398.89 L355.10,397.89 L355.15,396.90 L355.25,394.91 L355.30,393.91 L355.35,392.91 L355.40,391.91 L355.45,390.91 L355.55,388.90 L355.60,387.89 L355.65,386.88 L355.70,385.87 L355.75,384.86 L355.85,382.83 L355.90,381.82 L355.95,380.80 L356.00,379.78 L356.05,378.75 L356.10,377.73 L356.20,375.68 L356.25,374.65 L356.30,373.62 L356.35,372.59 L356.40,371.56 L356.45,370.53 L356.55,368.46 L356.60,367.42 L356.65,366.38 L356.70,365.34 L356.75,364.30 L356.80,363.26 L356.85,362.22 L356.95,360.14 L357.00,359.10 L357.05,358.05 L357.10,357.01 L357.15,355.97 L357.20,354.92 L357.30,352.83 L357.35,351.79 L357.40,350.74 L357.45,349.70 L357.50,348.65 L357.55,347.61 L357.60,346.56 L357.70,344.48 L357.75,343.43 L357.80,342.39 L357.85,341.35 L357.90,340.30 L357.95,339.26 L358.00,338.22 L358.10,336.14 L358.15,335.10 L358.20,334.07 L358.25,333.03 L358.30,331.99 L358.35,330.96 L358.45,328.89 L358.50,327.86 L358.55,326.83 L358.60,325.80 L358.65,324.78 L358.70,323.75 L358.80,321.71 L358.85,320.69 L358.90,319.67 L358.95,318.65 L359.00,317.64 L359.05,316.62 L359.15,314.60 L359.20,313.60 L359.25,312.59 L359.30,311.59 L359.35,310.59 L359.45,308.60 L359.50,307.60 L359.55,306.61 L359.60,305.63 L359.65,304.64 L359.75,302.68 L359.80,301.70 L359.85,300.73 L359.90,299.76 L360.00,297.82 L360.05,296.86 L360.10,295.90 L360.15,294.95 L360.25,293.05 L360.30,292.10 L360.35,291.16 L360.40,290.22 L360.50,288.36 L360.55,287.43 L360.60,286.51 L360.70,284.67 L360.75,283.76 L360.80,282.86 L360.90,281.05 L360.95,280.16 L361.00,279.27 L361.10,277.50 L361.15,276.62 L361.20,275.75 L361.30,274.02 L361.35,273.16 L361.40,272.31 L361.50,270.61 L361.55,269.77 L361.65,268.11 L361.70,267.29 L361.80,265.66 L361.85,264.85 L361.95,263.25 L362.00,262.45 L362.10,260.89 L362.15,260.11 L362.25,258.58 L362.30,257.82 L362.40,256.32 L362.50,254.84 L362.55,254.11 L362.65,252.67 L362.70,251.95 L362.80,250.54 L362.90,249.14 L363.00,247.77 L363.05,247.09 L363.15,245.75 L363.25,244.42 L363.35,243.12 L363.45,241.83 L363.50,241.20 L363.60,239.94 L363.70,238.70 L363.80,237.48 L363.90,236.28 L364.00,235.09 L364.10,233.92 L364.20,232.77 L364.30,231.64 L364.45,229.96 L364.55,228.87 L364.65,227.79 L364.75,226.72 L364.90,225.15 L365.00,224.12 L365.10,223.11 L365.25,221.61 L365.35,220.63 L365.45,219.67 L365.60,218.24 L365.70,217.30 L365.85,215.92 L366.00,214.57 L366.10,213.68 L366.25,212.36 L366.40,211.07 L366.55,209.81 L366.70,208.58 L366.85,207.38 L367.00,206.22 L367.15,205.11 L367.30,204.04 L367.45,203.01 L367.65,201.73 L367.85,200.56 L368.10,199.24 L368.35,198.12 L368.65,197.05 L369.15,196.00 L370.00,196.50 L370.40,197.65 L370.70,198.85 L370.95,200.07 L371.15,201.17 L371.35,202.38 L371.55,203.70 L371.70,204.75 L371.85,205.86 L372.00,207.02 L372.15,208.22 L372.30,209.48 L372.45,210.78 L372.60,212.12 L372.70,213.03 L372.85,214.44 L372.95,215.40 L373.10,216.86 L373.20,217.86 L373.35,219.39 L373.45,220.42 L373.55,221.47 L373.65,222.54 L373.80,224.16 L373.90,225.26 L374.00,226.38 L374.10,227.51 L374.20,228.65 L374.30,229.81 L374.40,230.98 L374.50,232.16 L374.60,233.35 L374.70,234.56 L374.80,235.78 L374.90,237.01 L375.00,238.25 L375.10,239.51 L375.20,240.77 L375.30,242.05 L375.40,243.34 L375.50,244.64 L375.55,245.29 L375.65,246.61 L375.75,247.93 L375.85,249.26 L375.95,250.61 L376.00,251.28 L376.10,252.64 L376.20,254.01 L376.30,255.39 L376.35,256.08 L376.45,257.47 L376.55,258.86 L376.65,260.27 L376.70,260.98 L376.80,262.39 L376.90,263.82 L376.95,264.54 L377.05,265.97 L377.15,267.42 L377.20,268.14 L377.30,269.59 L377.40,271.05 L377.45,271.79 L377.55,273.26 L377.60,273.99 L377.70,275.47 L377.80,276.96 L377.85,277.70 L377.95,279.19 L378.05,280.69 L378.10,281.44 L378.20,282.95 L378.25,283.70 L378.35,285.21 L378.40,285.97 L378.50,287.49 L378.60,289.01 L378.65,289.77 L378.75,291.30 L378.80,292.06 L378.90,293.60 L378.95,294.36 L379.05,295.90 L379.15,297.44 L379.20,298.21 L379.30,299.75 L379.35,300.53 L379.45,302.07 L379.50,302.85 L379.60,304.39 L379.65,305.17 L379.75,306.72 L379.85,308.27 L379.90,309.05 L380.00,310.60 L380.05,311.38 L380.15,312.93 L380.20,313.71 L380.30,315.27 L380.35,316.04 L380.45,317.60 L380.50,318.38 L380.60,319.93 L380.65,320.71 L380.75,322.26 L380.85,323.81 L380.90,324.59 L381.00,326.14 L381.05,326.91 L381.15,328.46 L381.20,329.23 L381.30,330.78 L381.35,331.55 L381.45,333.09 L381.50,333.86 L381.60,335.40 L381.70,336.94 L381.75,337.70 L381.85,339.23 L381.90,340.00 L382.00,341.52 L382.05,342.28 L382.15,343.80 L382.25,345.32 L382.30,346.07 L382.40,347.58 L382.45,348.33 L382.55,349.83 L382.65,351.33 L382.70,352.08 L382.80,353.57 L382.85,354.31 L382.95,355.79 L383.05,357.26 L383.10,358.00 L383.20,359.47 L383.25,360.20 L383.35,361.65 L383.45,363.10 L383.50,363.82 L383.60,365.26 L383.70,366.69 L383.75,367.41 L383.85,368.83 L383.95,370.24 L384.05,371.65 L384.10,372.35 L384.20,373.74 L384.30,375.12 L384.35,375.81 L384.45,377.18 L384.55,378.54 L384.65,379.89 L384.70,380.57 L384.80,381.90 L384.90,383.23 L385.00,384.55 L385.10,385.86 L385.20,387.16 L385.25,387.81 L385.35,389.10 L385.45,390.38 L385.55,391.66 L385.65,392.94 L385.75,394.21 L385.85,395.48 L385.90,396.11 L386.00,397.38 L386.10,398.65 L386.20,399.91 L386.30,401.18 L386.40,402.46 L386.50,403.73 L386.60,405.02 L386.70,406.30 L386.75,406.95 L386.85,408.24 L386.95,409.55 L387.05,410.86 L387.15,412.18 L387.20,412.85 L387.30,414.19 L387.40,415.54 L387.50,416.90 L387.60,418.28 L387.65,418.97 L387.75,420.37 L387.85,421.79 L387.90,422.50 L388.00,423.94 L388.10,425.40 L388.15,426.14 L388.25,427.62 L388.35,429.13 L388.40,429.89 L388.50,431.43 L388.55,432.21 L388.65,433.77 L388.70,434.56 L388.80,436.15 L388.85,436.95 L388.95,438.56 L389.00,439.37 L389.10,440.99 L389.15,441.81 L389.25,443.45 L389.30,444.28 L389.40,445.93 L389.45,446.75 L389.50,447.58 L389.60,449.24 L389.65,450.08 L389.75,451.74 L389.80,452.57 L389.90,454.24 L389.95,455.07 L390.05,456.73 L390.10,457.56 L390.15,458.39 L390.25,460.04 L390.30,460.87 L390.40,462.51 L390.45,463.33 L390.55,464.96 L390.60,465.77 L390.70,467.38 L390.75,468.18 L390.85,469.77 L390.90,470.57 L391.00,472.14 L391.05,472.91 L391.15,474.46 L391.20,475.22 L391.30,476.74 L391.40,478.23 L391.45,478.97 L391.55,480.43 L391.60,481.15 L391.70,482.57 L391.80,483.97 L391.90,485.35 L391.95,486.03 L392.05,487.37 L392.15,488.69 L392.25,489.99 L392.35,491.27 L392.40,491.90 L392.50,493.14 L392.60,494.37 L392.70,495.57 L392.80,496.75 L392.90,497.92 L393.00,499.06 L393.15,500.74 L393.25,501.84 L393.35,502.91 L393.45,503.97 L393.60,505.53 L393.70,506.54 L393.80,507.54 L393.95,509.01 L394.05,509.96 L394.20,511.37 L394.30,512.29 L394.45,513.63 L394.60,514.95 L394.70,515.81 L394.85,517.07 L395.00,518.30 L395.15,519.50 L395.30,520.68 L395.45,521.82 L395.60,522.94 L395.80,524.40 L395.95,525.47 L396.10,526.51 L396.30,527.87 L396.45,528.86 L396.65,530.16 L396.85,531.42 L397.05,532.66 L397.25,533.87 L397.40,534.77 L397.65,536.23 L397.85,537.38 L398.05,538.52 L398.25,539.64 L398.45,540.75 L398.70,542.12 L398.90,543.22 L399.10,544.31 L399.30,545.41 L399.55,546.78 L399.75,547.88 L399.95,548.99 L400.20,550.39 L400.40,551.51 L400.60,552.63 L400.80,553.75 L401.00,554.87 L401.25,556.27 L401.45,557.39 L401.65,558.51 L401.85,559.62 L402.10,561.00 L402.30,562.10 L402.50,563.19 L402.75,564.54 L402.95,565.61 L403.15,566.67 L403.40,567.97 L403.65,569.26 L403.85,570.27 L404.10,571.51 L404.35,572.72 L404.60,573.91 L404.85,575.08 L405.10,576.21 L405.35,577.33 L405.60,578.42 L405.90,579.70 L406.15,580.74 L406.45,581.95 L406.75,583.14 L407.05,584.29 L407.35,585.41 L407.70,586.68 L408.00,587.73 L408.35,588.93 L408.70,590.09 L409.05,591.20 L409.40,592.29 L409.80,593.48 L410.20,594.63 L410.60,595.73 L411.05,596.92 L411.45,597.94 L411.90,599.04 L412.40,600.20 L412.90,601.31 L413.40,602.37 L413.95,603.48 L414.50,604.53 L415.05,605.53 L415.65,606.57 L416.30,607.64 L416.95,608.65 L417.60,609.61 L418.30,610.61 L419.00,611.56 L419.70,612.48 L420.45,613.45 L421.20,614.38 L421.95,615.29 L422.75,616.23 L423.55,617.15 L424.35,618.03 L425.15,618.89 L426.00,619.78 L426.85,620.63 L427.70,621.46 L428.55,622.26 L429.45,623.08 L430.35,623.87 L431.30,624.67 L432.20,625.40 L433.15,626.15 L434.10,626.86 L435.10,627.58 L436.05,628.24 L437.05,628.91 L438.10,629.58 L439.10,630.20 L440.15,630.81 L441.20,631.41 L442.25,631.97 L443.30,632.52 L444.35,633.04 L445.45,633.57 L446.55,634.07 L447.65,634.56 L448.75,635.03 L449.85,635.48 L450.95,635.92 L452.10,636.37 L453.20,636.78 L454.35,637.20 L455.45,637.60 L456.60,638.01 L457.75,638.41 L458.85,638.79 L460.00,639.19 L461.15,639.59 L462.25,639.97 L463.40,640.38 L464.55,640.79 L465.65,641.18 L466.80,641.61 L467.90,642.03 L469.00,642.46 L470.15,642.92 L471.25,643.37 L472.35,643.84 L473.45,644.32 L474.55,644.81 L475.65,645.31 L476.70,645.80 L477.80,646.31 L478.90,646.82 L480.00,647.34 L481.05,647.84 L482.15,648.36 L483.25,648.88 L484.30,649.37 L485.40,649.89 L486.50,650.39 L487.60,650.89 L488.70,651.39 L489.80,651.87 L490.90,652.34 L492.00,652.80 L493.10,653.24 L494.25,653.69 L495.35,654.10 L496.50,654.51 L497.60,654.89 L498.75,655.25 L499.90,655.59 L501.05,655.91 L502.25,656.21 L503.40,656.47 L504.60,656.72 L505.75,656.92 L506.95,657.11 L508.15,657.27 L509.35,657.40 L510.50,657.50 L511.70,657.57 L512.90,657.62 L514.10,657.64 L515.30,657.63 L516.50,657.59 L517.70,657.52 L518.90,657.42 L520.10,657.30 L521.30,657.15 L522.50,656.97 L523.65,656.77 L524.85,656.54 L526.00,656.29 L527.20,656.00 L528.35,655.70 L529.50,655.37 L530.65,655.02 L531.80,654.64 L532.90,654.25 L534.05,653.83 L535.15,653.39 L536.25,652.94 L537.35,652.46 L538.45,651.96 L539.55,651.44 L540.65,650.90 L541.70,650.37 L542.75,649.83 L543.85,649.25 L544.90,648.69 L545.95,648.12 L547.00,647.55 L548.05,646.98 L549.10,646.41 L550.15,645.84 L551.20,645.27 L552.25,644.72 L553.35,644.14 L554.40,643.61 L555.50,643.06 L556.55,642.55 L557.65,642.04 L558.75,641.55 L559.85,641.08 L560.95,640.64 L562.10,640.20 L563.20,639.80 L564.35,639.41 L565.50,639.05 L566.65,638.71 L567.80,638.39 L568.95,638.09 L570.15,637.81 L571.30,637.56 L572.50,637.32 L573.65,637.11 L574.85,636.92 L576.05,636.74 L577.20,636.60 L578.40,636.46 L579.60,636.35 L580.80,636.26 L582.00,636.19 L583.20,636.13 L584.40,636.09 L585.60,636.07 L586.80,636.07 L588.00,636.08 L589.20,636.11 L590.40,636.16 L591.60,636.22 L592.80,636.29 L594.00,636.38 L595.20,636.48 L596.40,636.59 L597.55,636.71 L598.75,636.85 L599.95,637.00 L601.15,637.15 L602.35,637.32 L603.50,637.49 L604.70,637.68 L605.90,637.87 L607.10,638.08 L608.25,638.28 L609.45,638.49 L610.60,638.71 L611.80,638.93 L613.00,639.17 L614.15,639.40 L615.35,639.64 L616.50,639.87 L617.70,640.12 L618.85,640.36 L620.05,640.62 L621.20,640.86 L622.40,641.12 L623.55,641.36 L624.70,641.61 L625.90,641.87 L627.05,642.11 L628.25,642.36 L629.40,642.61 L630.60,642.86 L631.75,643.10 L632.95,643.35 L634.10,643.59 L635.30,643.84 L636.45,644.07 L637.65,644.32 L638.80,644.55 L640.00,644.80 L641.15,645.03 L642.35,645.27 L643.50,645.50 L644.70,645.74 L645.90,645.98 L647.05,646.21 L648.25,646.45 L649.40,646.67 L650.60,646.91 L651.75,647.13 L652.95,647.37 L654.10,647.59 L655.30,647.82 L656.50,648.05 L657.65,648.28 L658.85,648.51 L660.00,648.72 L661.20,648.95 L662.35,649.17 L663.55,649.40 L664.75,649.62 L665.90,649.84 L667.10,650.06 L668.25,650.28 L669.45,650.50 L670.65,650.72 L671.80,650.93 L673.00,651.15 L674.15,651.37 L675.35,651.59 L676.55,651.80 L677.70,652.01 L678.90,652.23 L680.05,652.44 L681.25,652.65 L682.45,652.86 L683.60,653.06 L684.80,653.27 L686.00,653.47 L687.15,653.66 L688.35,653.85 L689.55,654.04 L690.75,654.22 L691.90,654.39 L693.10,654.55 L694.30,654.71 L695.50,654.86 L696.65,655.00 L697.85,655.14 L699.05,655.26 L700.25,655.38 L701.45,655.48 L702.65,655.58 L703.85,655.66 L705.05,655.73 L706.25,655.79 L707.45,655.83 L708.65,655.86 L709.85,655.88 L711.05,655.88 L712.25,655.87 L713.45,655.84 L714.65,655.80 L715.85,655.74 L717.05,655.66 L718.25,655.56 L719.40,655.45 L720.60,655.32 L721.80,655.17 L723.00,655.00 L724.20,654.81 L725.35,654.61 L726.55,654.38 L727.70,654.15 L728.90,653.90 L730.05,653.65 L731.25,653.37 L732.40,653.11 L733.55,652.83 L734.75,652.54 L735.90,652.27 L737.05,651.99 L738.25,651.71 L739.40,651.44 L740.60,651.16 L741.75,650.91 L742.90,650.66 L744.10,650.42 L745.30,650.19 L746.45,649.99 L747.65,649.79 L748.85,649.62 L750.00,649.47 L751.20,649.33 L752.40,649.21 L753.60,649.10 L754.80,649.01 L756.00,648.94 L757.20,648.88 L758.40,648.83 L759.60,648.80 L760.80,648.78 L762.00,648.78 L763.20,648.78 L764.40,648.80 L765.60,648.82 L766.80,648.86 L768.00,648.90 L769.20,648.96 L770.40,649.02 L771.60,649.09 L772.80,649.16 L774.00,649.24 L775.20,649.33 L776.35,649.42 L777.55,649.52 L778.75,649.62 L779.95,649.72 L781.15,649.82 L782.35,649.93 L783.55,650.04 L784.75,650.15 L785.95,650.25 L787.15,650.36 L788.35,650.47 L789.50,650.57 L790.70,650.67 L791.90,650.77 L793.10,650.87 L794.30,650.96 L795.50,651.04 L796.70,651.12 L797.90,651.20 L799.10,651.26 L800.30,651.33 L801.50,651.38 L802.70,651.43 L803.90,651.47 L805.10,651.51 L806.30,651.55 L807.50,651.57 L808.70,651.59 L809.90,651.61 L811.10,651.62 L812.30,651.63 L813.50,651.63 L814.70,651.62 L815.90,651.62 L817.10,651.60 L818.30,651.58 L819.50,651.56 L820.70,651.54 L821.90,651.51 L823.10,651.47 L824.30,651.43 L825.50,651.39 L826.70,651.34 L827.90,651.29 L829.10,651.24 L830.30,651.18 L831.50,651.12 L832.70,651.06 L833.90,650.99 L835.10,650.92 L836.25,650.85 L837.45,650.77 L838.65,650.69 L839.85,650.61 L841.05,650.53 L842.25,650.44 L843.45,650.35 L844.65,650.26 L845.85,650.17 L847.05,650.07 L848.25,649.98 L849.45,649.88 L850.65,649.78 L851.85,649.67 L853.05,649.57 L854.20,649.47 L855.40,649.36 L856.60,649.26 L857.80,649.15 L859.00,649.04 L860.20,648.93 L861.40,648.82 L862.60,648.71 L863.80,648.59 L865.00,648.48 L866.15,648.37 L867.35,648.26 L868.55,648.14 L869.75,648.03 L870.95,647.91 L872.15,647.80 L873.35,647.68 L874.55,647.56 L875.75,647.45 L876.90,647.33 L878.10,647.21 L879.30,647.09 L880.50,646.97 L881.70,646.84 L882.90,646.72 L884.10,646.59 L885.30,646.46 L886.45,646.34 L887.65,646.21 L888.85,646.07 L890.05,645.94 L891.25,645.81 L892.45,645.67 L893.60,645.54 L894.80,645.39 L896.00,645.25 L897.20,645.11 L898.40,644.96 L899.60,644.81 L900.75,644.67 L901.95,644.52 L903.15,644.36 L904.35,644.21 L905.55,644.05 L906.70,643.89 L907.90,643.73 L909.10,643.56 L910.30,643.39 L911.50,643.22 L912.65,643.05 L913.85,642.88 L915.05,642.70 L916.20,642.52 L917.40,642.34 L918.60,642.15 L919.80,641.96 L920.95,641.78 L922.15,641.58 L923.35,641.38 L924.50,641.18 L925.70,640.98 L926.90,640.77 L928.05,640.57 L929.25,640.35 L930.40,640.14 L931.60,639.92 L932.80,639.69 L933.95,639.47 L935.15,639.24 L936.30,639.01 L937.50,638.77 L938.65,638.54 L939.85,638.30 L941.00,638.07 L942.20,637.82 L943.35,637.58 L944.55,637.33 L945.70,637.09 L946.90,636.84 L948.05,636.60 L949.25,636.35 L950.40,636.11 L951.60,635.85 L952.75,635.61 L953.95,635.36 L955.10,635.12 L956.30,634.87 L957.45,634.63 L958.65,634.38 L959.80,634.14 L961.00,633.89 L962.15,633.66 L963.35,633.41 L964.50,633.18 L965.70,632.95 L966.90,632.71 L968.05,632.49 L969.25,632.26 L970.40,632.04 L971.60,631.82 L972.75,631.61 L973.95,631.39 L975.15,631.18 L976.30,630.98 L977.50,630.78 L978.70,630.58 L979.85,630.39 L981.05,630.21 L982.25,630.02 L983.45,629.85 L984.60,629.68 L985.80,629.52 L987.00,629.36 L988.20,629.20 L989.40,629.06 L990.55,628.92 L991.75,628.79 L992.95,628.67 L994.15,628.55 L995.35,628.44 L996.55,628.33 L997.75,628.23 L998.95,628.14 L1000.15,628.05 L1001.30,627.96 L1002.50,627.88 L1003.70,627.79 L1004.90,627.70 L1006.10,627.61 L1007.30,627.52 L1008.50,627.42 L1009.70,627.32 L1010.90,627.22 L1012.10,627.10 L1013.30,626.98 L1014.50,626.85 L1015.65,626.72 L1016.85,626.57 L1018.05,626.41 L1019.25,626.24 L1020.40,626.06 L1021.60,625.86 L1022.80,625.64 L1023.95,625.42 L1025.15,625.17 L1026.30,624.91 L1027.50,624.62 L1028.65,624.33 L1029.80,624.01 L1030.95,623.67 L1032.10,623.32 L1033.25,622.93 L1034.35,622.55 L1035.50,622.12 L1036.60,621.68 L1037.70,621.22 L1038.80,620.74 L1039.90,620.23 L1041.00,619.69 L1042.05,619.15 L1043.10,618.59 L1044.15,617.99 L1045.20,617.37 L1046.20,616.76 L1047.20,616.12 L1048.20,615.45 L1049.20,614.75 L1050.15,614.06 L1051.15,613.31 L1052.05,612.60 L1053.00,611.83 L1053.95,611.04 L1054.85,610.26 L1055.75,609.45 L1056.60,608.66 L1057.50,607.81 L1058.35,606.97 L1059.20,606.11 L1060.00,605.29 L1060.85,604.38 L1061.65,603.51 L1062.45,602.62 L1063.25,601.71 L1064.00,600.83 L1064.80,599.88 L1065.55,598.97 L1066.30,598.05 L1067.05,597.10 L1067.80,596.14 L1068.55,595.16 L1069.25,594.23 L1069.95,593.28 L1070.65,592.32 L1071.35,591.35 L1072.05,590.36 L1072.75,589.35 L1073.45,588.33 L1074.10,587.37 L1074.75,586.40 L1075.45,585.34 L1076.10,584.34 L1076.75,583.33 L1077.40,582.30 L1078.00,581.35 L1078.65,580.30 L1079.30,579.24 L1079.90,578.25 L1080.50,577.25 L1081.15,576.15 L1081.75,575.13 L1082.35,574.10 L1082.95,573.06 L1083.55,572.00 L1084.10,571.03 L1084.70,569.96 L1085.30,568.87 L1085.85,567.87 L1086.45,566.77 L1087.00,565.75 L1087.60,564.63 L1088.15,563.59 L1088.70,562.55 L1089.25,561.49 L1089.80,560.43 L1090.35,559.36 L1090.90,558.28 L1091.45,557.20 L1092.00,556.10 L1092.50,555.10 L1093.05,553.99 L1093.60,552.87 L1094.10,551.84 L1094.65,550.71 L1095.15,549.67 L1095.65,548.63 L1096.20,547.48 L1096.70,546.44 L1097.20,545.38 L1097.75,544.22 L1098.25,543.17 L1098.75,542.11 L1099.30,540.95 L1099.80,539.89 L1100.30,538.84 L1100.80,537.78 L1101.35,536.62 L1101.85,535.58 L1102.35,534.53 L1102.90,533.38 L1103.40,532.35 L1103.95,531.21 L1104.45,530.19 L1105.00,529.07 L1105.50,528.06 L1106.05,526.95 L1106.60,525.86 L1107.15,524.78 L1107.70,523.71 L1108.25,522.65 L1108.80,521.61 L1109.35,520.58 L1109.95,519.47 L1110.50,518.47 L1111.10,517.40 L1111.70,516.36 L1112.30,515.33 L1112.90,514.33 L1113.55,513.27 L1114.20,512.24 L1114.85,511.24 L1115.50,510.27 L1116.20,509.27 L1116.90,508.30 L1117.60,507.38 L1118.35,506.44 L1119.15,505.50 L1119.95,504.62 L1120.80,503.76 L1121.65,502.96 L1122.60,502.17 L1123.55,501.46 L1124.55,500.82 L1125.60,500.24 L1126.70,499.76 L1127.85,499.38 L1129.00,499.12 L1130.20,498.98 L1131.40,498.97 L1132.60,499.09 L1133.75,499.32 L1134.90,499.66 L1136.05,500.12 L1137.10,500.64 L1138.15,501.24 L1139.15,501.90 L1140.10,502.60 L1141.05,503.36 L1141.95,504.16 L1142.85,505.01 L1143.65,505.82 L1144.50,506.73 L1145.30,507.63 L1146.05,508.52 L1146.80,509.45 L1147.55,510.42 L1148.25,511.35 L1148.95,512.32 L1149.65,513.32 L1150.35,514.36 L1151.00,515.35 L1151.65,516.36 L1152.30,517.40 L1152.90,518.39 L1153.50,519.40 L1154.10,520.43 L1154.70,521.47 L1155.30,522.55 L1155.90,523.64 L1156.45,524.66 L1157.00,525.69 L1157.55,526.74 L1158.10,527.81 L1158.65,528.89 L1159.20,529.98 L1159.75,531.08 L1160.30,532.19 L1160.80,533.21 L1161.35,534.34 L1161.85,535.37 L1162.40,536.50 L1162.90,537.54 L1163.40,538.57 L1163.95,539.72 L1164.45,540.75 L1165.00,541.89 L1165.50,542.93 L1166.05,544.06 L1166.55,545.09 L1167.10,546.21 L1167.60,547.23 L1168.15,548.33 L1168.70,549.43 L1169.25,550.52 L1169.80,551.59 L1170.35,552.65 L1170.90,553.70 L1171.45,554.73 L1172.00,555.74 L1172.60,556.84 L1173.20,557.91 L1173.75,558.89 L1174.35,559.93 L1174.95,560.96 L1175.60,562.06 L1176.20,563.06 L1176.85,564.12 L1177.45,565.09 L1178.10,566.12 L1178.75,567.13 L1179.40,568.12 L1180.05,569.10 L1180.75,570.13 L1181.40,571.08 L1182.10,572.07 L1182.80,573.05 L1183.50,574.01 L1184.25,575.01 L1184.95,575.93 L1185.70,576.90 L1186.45,577.84 L1187.20,578.77 L1187.95,579.67 L1188.75,580.61 L1189.55,581.54 L1190.30,582.38 L1191.15,583.32 L1191.95,584.18 L1192.80,585.07 L1193.60,585.89 L1194.45,586.74 L1195.30,587.57 L1196.20,588.42 L1197.05,589.21 L1197.95,590.02 L1198.85,590.81 L1199.80,591.62 L1200.70,592.36 L1201.65,593.13 L1202.60,593.88 L1203.55,594.60 L1204.50,595.31 L1205.45,595.99 L1206.45,596.69 L1207.45,597.38 L1208.45,598.04 L1209.45,598.68 L1210.45,599.31 L1211.50,599.95 L1212.50,600.55 L1213.55,601.15 L1214.60,601.75 L1215.65,602.32 L1216.70,602.89 L1217.80,603.46 L1218.85,604.00 L1219.90,604.53 L1221.00,605.07 L1222.05,605.58 L1223.15,606.10 L1224.25,606.62 L1225.35,607.13 L1226.45,607.63 L1227.50,608.10 L1228.60,608.58 L1229.70,609.05 L1230.85,609.53 L1231.95,609.97 L1233.05,610.39 L1234.20,610.80 L1235.35,611.20 L1236.45,611.55 L1237.60,611.89 L1238.80,612.22 L1239.95,612.49 L1241.10,612.73 L1242.30,612.94 L1243.50,613.11 L1243.50,613.11" fill="none" stroke="#0000FF" stroke-width="6.2" stroke-linejoin="round" stroke-linecap="butt"/>
<path d="M718.10,344.37 L719.30,344.06 L720.45,343.77 L721.60,343.48 L722.80,343.19 L723.95,342.90 L725.10,342.63 L726.30,342.34 L727.45,342.06 L728.60,341.79 L729.80,341.51 L730.95,341.24 L732.10,340.98 L733.30,340.70 L734.45,340.43 L735.65,340.15 L736.80,339.88 L737.95,339.62 L739.15,339.34 L740.30,339.07 L741.45,338.80 L742.65,338.51 L743.80,338.24 L744.95,337.96 L746.15,337.67 L747.30,337.39 L748.45,337.10 L749.65,336.80 L750.80,336.51 L751.95,336.21 L753.10,335.91 L754.25,335.60 L755.45,335.27 L756.60,334.96 L757.75,334.63 L758.90,334.30 L760.05,333.97 L761.20,333.63 L762.35,333.28 L763.50,332.92 L764.65,332.56 L765.80,332.20 L766.95,331.83 L768.05,331.47 L769.20,331.10 L770.35,330.73 L771.50,330.36 L772.65,330.00 L773.80,329.63 L774.95,329.28 L776.10,328.92 L777.25,328.58 L778.40,328.24 L779.55,327.91 L780.70,327.60 L781.85,327.29 L783.00,327.00 L784.20,326.71 L785.35,326.45 L786.50,326.20 L787.70,325.97 L788.90,325.75 L790.05,325.56 L791.25,325.39 L792.45,325.24 L793.65,325.12 L794.85,325.02 L796.05,324.95 L797.25,324.91 L798.45,324.89 L799.65,324.89 L800.85,324.93 L802.05,324.98 L803.20,325.06 L804.40,325.17 L805.60,325.30 L806.80,325.46 L808.00,325.64 L809.15,325.84 L810.35,326.07 L811.50,326.31 L812.70,326.58 L813.85,326.86 L815.00,327.16 L816.20,327.48 L817.35,327.81 L818.50,328.14 L819.65,328.49 L820.80,328.85 L821.95,329.21 L823.05,329.57 L824.20,329.94 L825.35,330.32 L826.50,330.71 L827.65,331.09 L828.75,331.46 L829.90,331.84 L831.05,332.22 L832.20,332.60 L833.35,332.97 L834.45,333.31 L835.60,333.67 L836.75,334.01 L837.90,334.34 L839.05,334.67 L840.25,334.99 L841.40,335.29 L842.55,335.58 L843.70,335.86 L844.90,336.14 L846.05,336.39 L847.25,336.65 L848.40,336.88 L849.60,337.11 L850.75,337.32 L851.95,337.52 L853.15,337.72 L854.35,337.89 L855.50,338.05 L856.70,338.21 L857.90,338.35 L859.10,338.48 L860.30,338.59 L861.50,338.69 L862.70,338.78 L863.90,338.86 L865.05,338.91 L866.25,338.96 L867.45,338.99 L868.65,339.01 L869.85,339.02 L871.05,339.01 L872.25,338.99 L873.45,338.95 L874.65,338.90 L875.85,338.83 L877.05,338.75 L878.25,338.66 L879.45,338.55 L880.65,338.43 L881.85,338.29 L883.05,338.13 L884.20,337.97 L885.40,337.79 L886.60,337.59 L887.75,337.38 L888.95,337.15 L890.15,336.91 L891.30,336.66 L892.45,336.40 L893.65,336.11 L894.80,335.83 L895.95,335.53 L897.15,335.22 L898.30,334.92 L899.45,334.61 L900.60,334.31 L901.75,334.00 L902.95,333.69 L904.10,333.39 L905.25,333.11 L906.40,332.83 L907.60,332.55 L908.75,332.30 L909.95,332.05 L911.10,331.83 L912.30,331.62 L913.50,331.43 L914.65,331.27 L915.85,331.14 L917.05,331.03 L918.25,330.95 L919.45,330.91 L920.65,330.89 L921.85,330.91 L923.05,330.95 L924.25,331.02 L925.45,331.11 L926.65,331.21 L927.85,331.33 L929.05,331.47 L930.20,331.60 L931.40,331.76 L932.60,331.92 L933.80,332.08 L935.00,332.24 L936.15,332.39 L937.35,332.55 L938.55,332.69 L939.75,332.83 L940.95,332.96 L942.15,333.07 L943.35,333.16 L944.55,333.24 L945.70,333.29 L946.90,333.33 L948.10,333.35 L949.30,333.35 L950.50,333.33 L951.70,333.28 L952.90,333.22 L954.10,333.13 L955.30,333.02 L956.50,332.88 L957.70,332.73 L958.90,332.54 L960.05,332.34 L961.25,332.11 L962.40,331.86 L963.60,331.57 L964.75,331.27 L965.90,330.94 L967.05,330.59 L968.20,330.20 L969.30,329.81 L970.45,329.38 L971.55,328.93 L972.65,328.46 L973.75,327.96 L974.85,327.44 L975.90,326.91 L976.95,326.36 L978.00,325.78 L979.05,325.17 L980.10,324.53 L981.10,323.90 L982.10,323.25 L983.10,322.57 L984.05,321.90 L985.05,321.18 L986.00,320.47 L986.95,319.75 L987.90,319.00 L988.85,318.25 L989.80,317.47 L990.70,316.72 L991.60,315.97 L992.55,315.15 L993.45,314.37 L994.35,313.58 L995.25,312.77 L996.10,312.01 L997.00,311.19 L997.90,310.37 L998.80,309.54 L999.65,308.75 L1000.55,307.91 L1001.40,307.11 L1002.30,306.26 L1003.15,305.46 L1004.05,304.60 L1004.90,303.80 L1005.75,302.99 L1006.65,302.14 L1007.50,301.33 L1008.40,300.48 L1009.25,299.68 L1010.15,298.84 L1011.00,298.04 L1011.90,297.21 L1012.75,296.42 L1013.65,295.60 L1014.55,294.78 L1015.45,293.97 L1016.35,293.17 L1017.25,292.37 L1018.15,291.59 L1019.05,290.81 L1019.95,290.03 L1020.85,289.27 L1021.80,288.46 L1022.70,287.71 L1023.60,286.96 L1024.55,286.18 L1025.45,285.44 L1026.40,284.66 L1027.35,283.89 L1028.25,283.17 L1029.20,282.40 L1030.15,281.64 L1031.10,280.89 L1032.00,280.18 L1032.95,279.42 L1033.90,278.68 L1034.85,277.93 L1035.80,277.18 L1036.75,276.44 L1037.70,275.69 L1038.65,274.95 L1039.55,274.24 L1040.50,273.50 L1041.45,272.75 L1042.40,272.01 L1043.35,271.26 L1044.30,270.51 L1045.25,269.76 L1046.15,269.06 L1047.10,268.31 L1048.05,267.56 L1049.00,266.81 L1049.95,266.06 L1050.90,265.31 L1051.85,264.57 L1052.75,263.86 L1053.70,263.11 L1054.65,262.36 L1055.60,261.62 L1056.55,260.87 L1057.50,260.12 L1058.45,259.38 L1059.40,258.64 L1060.35,257.89 L1061.25,257.19 L1062.20,256.45 L1063.15,255.71 L1064.10,254.97 L1065.05,254.23 L1066.00,253.50 L1066.95,252.76 L1067.90,252.03 L1068.85,251.30 L1069.80,250.58 L1070.75,249.85 L1071.75,249.10 L1072.70,248.38 L1073.65,247.67 L1074.60,246.97 L1075.60,246.24 L1076.55,245.54 L1077.50,244.86 L1078.50,244.14 L1079.50,243.44 L1080.45,242.78 L1081.45,242.09 L1082.45,241.41 L1083.45,240.74 L1084.45,240.08 L1085.45,239.43 L1086.45,238.80 L1087.50,238.15 L1088.50,237.54 L1089.55,236.91 L1090.55,236.33 L1091.60,235.73 L1092.65,235.15 L1093.70,234.59 L1094.80,234.01 L1095.85,233.49 L1096.95,232.95 L1098.05,232.44 L1099.10,231.97 L1100.20,231.50 L1101.35,231.04 L1102.45,230.61 L1103.60,230.20 L1104.70,229.83 L1105.85,229.46 L1107.00,229.13 L1108.20,228.82 L1109.35,228.54 L1110.50,228.30 L1111.70,228.08 L1112.90,227.90 L1114.10,227.76 L1115.25,227.65 L1116.45,227.58 L1117.65,227.54 L1118.85,227.55 L1120.05,227.59 L1121.25,227.68 L1122.45,227.80 L1123.65,227.96 L1124.85,228.15 L1126.00,228.37 L1127.20,228.63 L1128.35,228.91 L1129.50,229.22 L1130.65,229.56 L1131.80,229.93 L1132.95,230.32 L1134.05,230.72 L1135.20,231.16 L1136.30,231.61 L1137.40,232.08 L1138.50,232.56 L1139.60,233.07 L1140.70,233.59 L1141.75,234.11 L1142.80,234.65 L1143.90,235.22 L1144.95,235.78 L1146.00,236.36 L1147.05,236.95 L1148.10,237.55 L1149.10,238.14 L1150.15,238.76 L1151.20,239.39 L1152.20,240.01 L1153.20,240.63 L1154.25,241.29 L1155.25,241.92 L1156.25,242.56 L1157.25,243.21 L1158.30,243.90 L1159.30,244.55 L1160.30,245.21 L1161.30,245.88 L1162.30,246.54 L1163.30,247.21 L1164.25,247.85 L1165.25,248.52 L1166.25,249.19 L1167.25,249.86 L1168.25,250.53 L1169.25,251.20 L1170.25,251.87 L1171.25,252.54 L1172.25,253.20 L1173.25,253.85 L1174.25,254.51 L1175.25,255.16 L1176.30,255.83 L1177.30,256.47 L1178.30,257.10 L1179.30,257.72 L1180.35,258.36 L1181.35,258.97 L1182.40,259.59 L1183.45,260.21 L1184.50,260.81 L1185.50,261.37 L1186.60,261.98 L1187.65,262.55 L1188.70,263.10 L1189.75,263.63 L1190.85,264.18 L1191.90,264.68 L1193.00,265.19 L1194.10,265.68 L1195.20,266.15 L1196.00,266.48" fill="none" stroke="#0000FF" stroke-width="6.2" stroke-linejoin="round" stroke-linecap="butt"/>
<path d="M718.10,345.12 L719.30,345.29 L720.50,345.45 L721.70,345.60 L722.90,345.74 L724.10,345.88 L725.25,346.00 L726.45,346.12 L727.65,346.22 L728.85,346.32 L730.05,346.41 L731.25,346.49 L732.45,346.56 L733.65,346.63 L734.85,346.68 L736.05,346.72 L737.25,346.75 L738.45,346.77 L739.65,346.78 L740.85,346.77 L742.05,346.76 L743.25,346.73 L744.45,346.70 L745.65,346.65 L746.85,346.59 L748.05,346.51 L749.25,346.43 L750.45,346.33 L751.65,346.22 L752.80,346.10 L754.00,345.96 L755.20,345.81 L756.40,345.65 L757.60,345.47 L758.75,345.29 L759.95,345.08 L761.15,344.86 L762.30,344.64 L763.50,344.39 L764.65,344.14 L765.80,343.87 L767.00,343.58 L768.15,343.29 L769.30,342.98 L770.45,342.65 L771.60,342.31 L772.75,341.96 L773.90,341.59 L775.05,341.20 L776.20,340.80 L777.30,340.41 L778.45,339.98 L779.55,339.55 L780.65,339.11 L781.75,338.65 L782.85,338.18 L783.95,337.70 L785.05,337.20 L786.15,336.70 L787.25,336.19 L788.35,335.67 L789.40,335.18 L790.50,334.66 L791.60,334.15 L792.70,333.63 L793.75,333.15 L794.85,332.64 L795.95,332.15 L797.05,331.67 L798.15,331.19 L799.25,330.74 L800.40,330.28 L801.50,329.86 L802.60,329.45 L803.75,329.06 L804.90,328.68 L806.05,328.32 L807.20,327.98 L808.35,327.66 L809.50,327.37 L810.70,327.08 L811.85,326.82 L813.05,326.58 L814.20,326.36 L815.40,326.16 L816.55,325.98 L817.75,325.82 L818.95,325.68 L820.15,325.56 L821.35,325.46 L822.55,325.38 L823.75,325.32 L824.95,325.27 L826.15,325.24 L827.35,325.22 L828.55,325.22 L829.75,325.23 L830.95,325.24 L832.15,325.26 L833.35,325.29 L834.55,325.33 L835.75,325.36 L836.95,325.40 L838.15,325.44 L839.35,325.47 L840.55,325.51 L841.75,325.53 L842.95,325.56 L844.15,325.57 L845.35,325.58 L846.55,325.57 L847.75,325.55 L848.95,325.52 L850.15,325.48 L851.35,325.41 L852.55,325.33 L853.70,325.24 L854.90,325.11 L856.10,324.97 L857.30,324.80 L858.50,324.61 L859.65,324.40 L860.85,324.15 L862.00,323.88 L863.15,323.58 L864.30,323.26 L865.45,322.90 L866.60,322.51 L867.75,322.08 L868.85,321.65 L869.95,321.18 L871.05,320.67 L872.10,320.16 L873.20,319.59 L874.25,319.02 L875.30,318.41 L876.30,317.80 L877.30,317.16 L878.30,316.48 L879.30,315.78 L880.25,315.08 L881.20,314.35 L882.15,313.59 L883.05,312.84 L884.00,312.01 L884.85,311.25 L885.75,310.42 L886.60,309.60 L887.45,308.76 L888.30,307.89 L889.15,306.99 L889.95,306.12 L890.75,305.23 L891.55,304.32 L892.30,303.45 L893.10,302.50 L893.85,301.59 L894.60,300.66 L895.35,299.71 L896.10,298.75 L896.80,297.83 L897.55,296.83 L898.25,295.89 L898.95,294.93 L899.65,293.96 L900.35,292.97 L901.05,291.97 L901.75,290.96 L902.40,290.01 L903.10,288.97 L903.75,288.00 L904.40,287.02 L905.05,286.03 L905.70,285.02 L906.35,284.01 L907.00,282.99 L907.65,281.96 L908.30,280.92 L908.95,279.88 L909.55,278.90 L910.20,277.84 L910.80,276.85 L911.40,275.85 L912.05,274.77 L912.65,273.76 L913.25,272.74 L913.85,271.72 L914.50,270.61 L915.10,269.58 L915.70,268.54 L916.30,267.50 L916.90,266.45 L917.45,265.48 L918.05,264.42 L918.65,263.36 L919.25,262.29 L919.85,261.22 L920.40,260.24 L921.00,259.16 L921.60,258.08 L922.15,257.08 L922.75,255.99 L923.30,254.99 L923.90,253.90 L924.45,252.89 L925.05,251.79 L925.60,250.78 L926.20,249.68 L926.75,248.66 L927.35,247.56 L927.90,246.54 L928.50,245.43 L929.05,244.41 L929.60,243.39 L930.20,242.28 L930.75,241.25 L931.30,240.23 L931.90,239.12 L932.45,238.10 L933.05,236.98 L933.60,235.96 L934.15,234.94 L934.75,233.82 L935.30,232.80 L935.85,231.78 L936.45,230.67 L937.00,229.66 L937.60,228.55 L938.15,227.54 L938.75,226.43 L939.30,225.42 L939.90,224.32 L940.45,223.32 L941.05,222.22 L941.60,221.22 L942.20,220.13 L942.75,219.14 L943.35,218.06 L943.95,216.98 L944.50,215.99 L945.10,214.92 L945.70,213.86 L946.30,212.79 L946.90,211.74 L947.45,210.77 L948.05,209.72 L948.65,208.68 L949.25,207.65 L949.85,206.61 L950.50,205.50 L951.10,204.49 L951.70,203.47 L952.30,202.47 L952.95,201.38 L953.55,200.39 L954.20,199.33 L954.80,198.35 L955.45,197.30 L956.05,196.33 L956.70,195.30 L957.35,194.27 L958.00,193.26 L958.65,192.25 L959.30,191.25 L959.95,190.26 L960.60,189.28 L961.30,188.23 L961.95,187.27 L962.65,186.24 L963.30,185.30 L964.00,184.30 L964.70,183.31 L965.40,182.33 L966.10,181.36 L966.80,180.41 L967.50,179.46 L968.25,178.47 L968.95,177.55 L969.70,176.58 L970.45,175.63 L971.20,174.69 L971.95,173.77 L972.70,172.86 L973.50,171.91 L974.25,171.04 L975.05,170.12 L975.85,169.22 L976.65,168.34 L977.50,167.43 L978.30,166.59 L979.15,165.72 L980.00,164.87 L980.85,164.05 L981.75,163.20 L982.60,162.42 L983.50,161.62 L984.40,160.85 L985.35,160.06 L986.30,159.31 L987.25,158.58 L988.20,157.89 L989.20,157.19 L990.20,156.53 L991.20,155.91 L992.25,155.29 L993.30,154.71 L994.35,154.16 L995.45,153.63 L996.55,153.14 L997.65,152.69 L998.75,152.28 L999.90,151.88 L1001.05,151.53 L1002.20,151.22 L1003.40,150.93 L1004.55,150.69 L1005.75,150.48 L1006.90,150.32 L1008.10,150.19 L1009.30,150.09 L1010.50,150.03 L1011.70,150.00 L1012.90,150.01 L1014.10,150.05 L1015.30,150.12 L1016.50,150.23 L1017.70,150.36 L1018.90,150.52 L1020.05,150.71 L1021.25,150.93 L1022.40,151.16 L1023.60,151.44 L1024.75,151.72 L1025.90,152.03 L1027.05,152.36 L1028.20,152.71 L1029.35,153.08 L1030.50,153.47 L1031.65,153.88 L1032.75,154.29 L1033.85,154.71 L1035.00,155.17 L1036.10,155.63 L1037.20,156.10 L1038.30,156.58 L1039.40,157.08 L1040.50,157.59 L1041.55,158.08 L1042.65,158.62 L1043.70,159.13 L1044.80,159.68 L1045.85,160.22 L1046.95,160.78 L1048.00,161.33 L1049.05,161.89 L1050.10,162.45 L1051.15,163.02 L1052.20,163.59 L1053.30,164.19 L1054.35,164.77 L1055.40,165.35 L1056.40,165.91 L1057.45,166.50 L1058.50,167.09 L1059.55,167.68 L1060.60,168.27 L1061.65,168.86 L1062.70,169.45 L1063.75,170.04 L1064.80,170.63 L1065.85,171.21 L1066.90,171.79 L1067.95,172.37 L1069.00,172.94 L1070.05,173.51 L1071.10,174.08 L1072.15,174.64 L1073.25,175.21 L1074.30,175.76 L1075.35,176.30 L1076.45,176.85 L1077.50,177.37 L1078.60,177.91 L1079.65,178.41 L1080.75,178.92 L1081.85,179.43 L1082.95,179.92 L1084.05,180.40 L1085.15,180.88 L1086.25,181.34 L1087.35,181.80 L1088.45,182.26 L1089.60,182.72 L1090.70,183.16 L1091.80,183.60 L1092.95,184.05 L1094.05,184.47 L1095.15,184.90 L1096.30,185.34 L1097.40,185.76 L1098.55,186.20 L1099.65,186.61 L1100.75,187.03 L1101.90,187.47 L1103.00,187.89 L1104.15,188.33 L1105.25,188.76 L1106.35,189.19 L1107.50,189.65 L1108.60,190.08 L1109.70,190.53 L1110.80,190.98 L1111.95,191.46 L1113.05,191.93 L1114.15,192.40 L1115.25,192.88 L1116.35,193.37 L1117.45,193.88 L1118.50,194.37 L1119.60,194.89 L1120.70,195.42 L1121.75,195.95 L1122.80,196.48 L1123.90,197.06 L1124.95,197.62 L1126.00,198.19 L1127.05,198.78 L1128.10,199.39 L1129.10,199.98 L1130.15,200.61 L1131.15,201.24 L1132.15,201.87 L1133.20,202.56 L1134.20,203.23 L1135.15,203.88 L1136.15,204.58 L1137.10,205.26 L1138.10,206.00 L1139.05,206.72 L1140.00,207.46 L1140.95,208.21 L1141.85,208.94 L1142.80,209.73 L1143.70,210.50 L1144.60,211.28 L1145.50,212.09 L1146.40,212.90 L1147.25,213.69 L1148.15,214.53 L1149.00,215.34 L1149.90,216.21 L1150.75,217.05 L1151.60,217.89 L1152.45,218.75 L1153.30,219.61 L1154.10,220.43 L1154.95,221.31 L1155.80,222.19 L1156.60,223.03 L1157.45,223.93 L1158.25,224.78 L1159.10,225.68 L1159.90,226.54 L1160.70,227.40 L1161.55,228.32 L1162.35,229.18 L1163.15,230.05 L1163.95,230.91 L1164.80,231.84 L1165.60,232.70 L1166.40,233.57 L1167.25,234.48 L1168.05,235.35 L1168.85,236.21 L1169.70,237.11 L1170.50,237.97 L1171.35,238.87 L1172.15,239.71 L1173.00,240.60 L1173.80,241.43 L1174.65,242.31 L1175.50,243.18 L1176.35,244.04 L1177.20,244.89 L1178.05,245.73 L1178.90,246.56 L1179.75,247.38 L1180.65,248.23 L1181.50,249.03 L1182.40,249.86 L1183.30,250.67 L1184.20,251.46 L1185.10,252.24 L1186.00,253.00 L1186.95,253.78 L1187.85,254.51 L1188.80,255.25 L1189.75,255.96 L1190.75,256.69 L1191.70,257.36 L1192.70,258.03 L1193.70,258.67 L1194.75,259.32 L1195.80,259.92 L1196.00,260.04" fill="none" stroke="#FF0000" stroke-width="6.2" stroke-linejoin="round" stroke-linecap="butt"/>
<line x1="219" y1="53" x2="307.5" y2="53" stroke="#0000FF" stroke-width="6.5"/>
<line x1="219" y1="109" x2="307.5" y2="109" stroke="#FF0000" stroke-width="6.5"/>
<text transform="translate(23.04,88.03) scale(0.4895,0.4718)" font-size="100">5x<tspan fill="transparent">1</tspan>0</text><path transform="translate(23.04,88.03) scale(0.4895,0.4718) translate(105.615,0)" d="M25.7,0 L34.6,0 L34.6,-69.2 L28.9,-69.2 C26.9,-62 19.7,-56 8,-55.5 L8,-49 L25.7,-49 Z" fill="#000"/>
<text transform="translate(127.16,56.20) scale(0.3588,0.3029)" font-size="100">-2</text>
<text transform="translate(131.64,688.10) scale(0.478,0.488)" font-size="100">0</text>
<text transform="translate(132.12,566.35) scale(0.478,0.488)" font-size="100"><tspan fill="transparent">1</tspan></text><path transform="translate(132.12,566.35) scale(0.478,0.488) translate(0.000,0)" d="M25.7,0 L34.6,0 L34.6,-69.2 L28.9,-69.2 C26.9,-62 19.7,-56 8,-55.5 L8,-49 L25.7,-49 Z" fill="#000"/>
<text transform="translate(132.12,444.60) scale(0.478,0.488)" font-size="100">2</text>
<text transform="translate(132.12,322.85) scale(0.478,0.488)" font-size="100">3</text>
<text transform="translate(131.17,201.10) scale(0.478,0.488)" font-size="100">4</text>
<text transform="translate(139.82,731.00) scale(0.478,0.488)" font-size="100"><tspan fill="transparent">1</tspan>.0</text><path transform="translate(139.82,731.00) scale(0.478,0.488) translate(0.000,0)" d="M25.7,0 L34.6,0 L34.6,-69.2 L28.9,-69.2 C26.9,-62 19.7,-56 8,-55.5 L8,-49 L25.7,-49 Z" fill="#000"/>
<text transform="translate(674.62,731.00) scale(0.478,0.488)" font-size="100"><tspan fill="transparent">1</tspan>.5</text><path transform="translate(674.62,731.00) scale(0.478,0.488) translate(0.000,0)" d="M25.7,0 L34.6,0 L34.6,-69.2 L28.9,-69.2 C26.9,-62 19.7,-56 8,-55.5 L8,-49 L25.7,-49 Z" fill="#000"/>
<text transform="translate(1211.14,731.00) scale(0.478,0.488)" font-size="100">2.0</text>
<text transform="translate(499.46,789.20) scale(0.4803,0.4851)" font-size="100" font-weight="normal" font-style="normal">Photon energy (eV)</text>
<text transform="translate(41.20,497.00) rotate(-90) scale(0.4679,0.4819)" font-size="100">Absorbance</text>
<text transform="translate(314.91,68.80) scale(0.4859,0.4981)" font-size="100" font-weight="normal" font-style="normal">Undoped</text>
<text transform="translate(314.93,124.00) scale(0.4839,0.4960)" font-size="100" font-weight="normal" font-style="normal">Hole-doped</text>
<text transform="translate(270.24,292.70) scale(0.4806,0.5043)" font-size="100" font-weight="bold" font-style="italic">E</text>
<path d="M307.90,281.40 L311.70,281.40 L311.70,303.80 L307.60,303.80 L307.60,286.90 L301.60,286.90 L301.60,284.40 C304.60,284.20 307.10,283.20 307.90,281.40 Z" fill="#000"/>
<path d="M324.90,281.40 L328.70,281.40 L328.70,303.80 L324.60,303.80 L324.60,286.90 L318.60,286.90 L318.60,284.40 C321.60,284.20 324.10,283.20 324.90,281.40 Z" fill="#000"/>
<text transform="translate(998.05,542.70) scale(0.4746,0.5000)" font-size="100" font-weight="bold" font-style="italic">E</text>
<text transform="translate(1027.17,553.90) scale(0.3423,0.3314)" font-size="100" font-weight="bold" font-style="normal">22</text>
<g class="ins">
<text transform="translate(603.55,58.65) scale(0.3617,0.3521)" font-size="100">3x<tspan fill="transparent">1</tspan>0</text><path transform="translate(603.55,58.65) scale(0.3617,0.3521) translate(105.615,0)" d="M25.7,0 L34.6,0 L34.6,-69.2 L28.9,-69.2 C26.9,-62 19.7,-56 8,-55.5 L8,-49 L25.7,-49 Z" fill="#000"/>
<text transform="translate(683.84,35.49) scale(0.2400,0.2127)" font-size="100">-3</text>
<text transform="translate(683.88,360.80) scale(0.362,0.345)" font-size="100">0</text>
<text transform="translate(684.24,257.83) scale(0.362,0.345)" font-size="100"><tspan fill="transparent">1</tspan></text><path transform="translate(684.24,257.83) scale(0.362,0.345) translate(0.000,0)" d="M25.7,0 L34.6,0 L34.6,-69.2 L28.9,-69.2 C26.9,-62 19.7,-56 8,-55.5 L8,-49 L25.7,-49 Z" fill="#000"/>
<text transform="translate(684.24,154.87) scale(0.362,0.345)" font-size="100">2</text>
<text transform="translate(683.89,396.50) scale(0.362,0.35)" font-size="100">0.95</text>
<text transform="translate(923.48,396.50) scale(0.362,0.35)" font-size="100"><tspan fill="transparent">1</tspan>.00</text><path transform="translate(923.48,396.50) scale(0.362,0.35) translate(0.000,0)" d="M25.7,0 L34.6,0 L34.6,-69.2 L28.9,-69.2 C26.9,-62 19.7,-56 8,-55.5 L8,-49 L25.7,-49 Z" fill="#000"/>
<text transform="translate(1160.76,396.50) scale(0.362,0.35)" font-size="100"><tspan fill="transparent">1</tspan>.05</text><path transform="translate(1160.76,396.50) scale(0.362,0.35) translate(0.000,0)" d="M25.7,0 L34.6,0 L34.6,-69.2 L28.9,-69.2 C26.9,-62 19.7,-56 8,-55.5 L8,-49 L25.7,-49 Z" fill="#000"/>
<text transform="translate(798.50,433.50) scale(0.3628,0.3628)" font-size="100" font-weight="normal" font-style="normal">Photon energy (eV)</text>
<text transform="translate(637.00,295.30) rotate(-90) scale(0.3565,0.3565)" font-size="100">Absorbance</text>
</g>
<text transform="translate(1058.82,105.10) scale(0.4844,0.4941)" font-size="100" font-weight="bold" font-style="normal">Trion</text>
</svg>
</body></html>
